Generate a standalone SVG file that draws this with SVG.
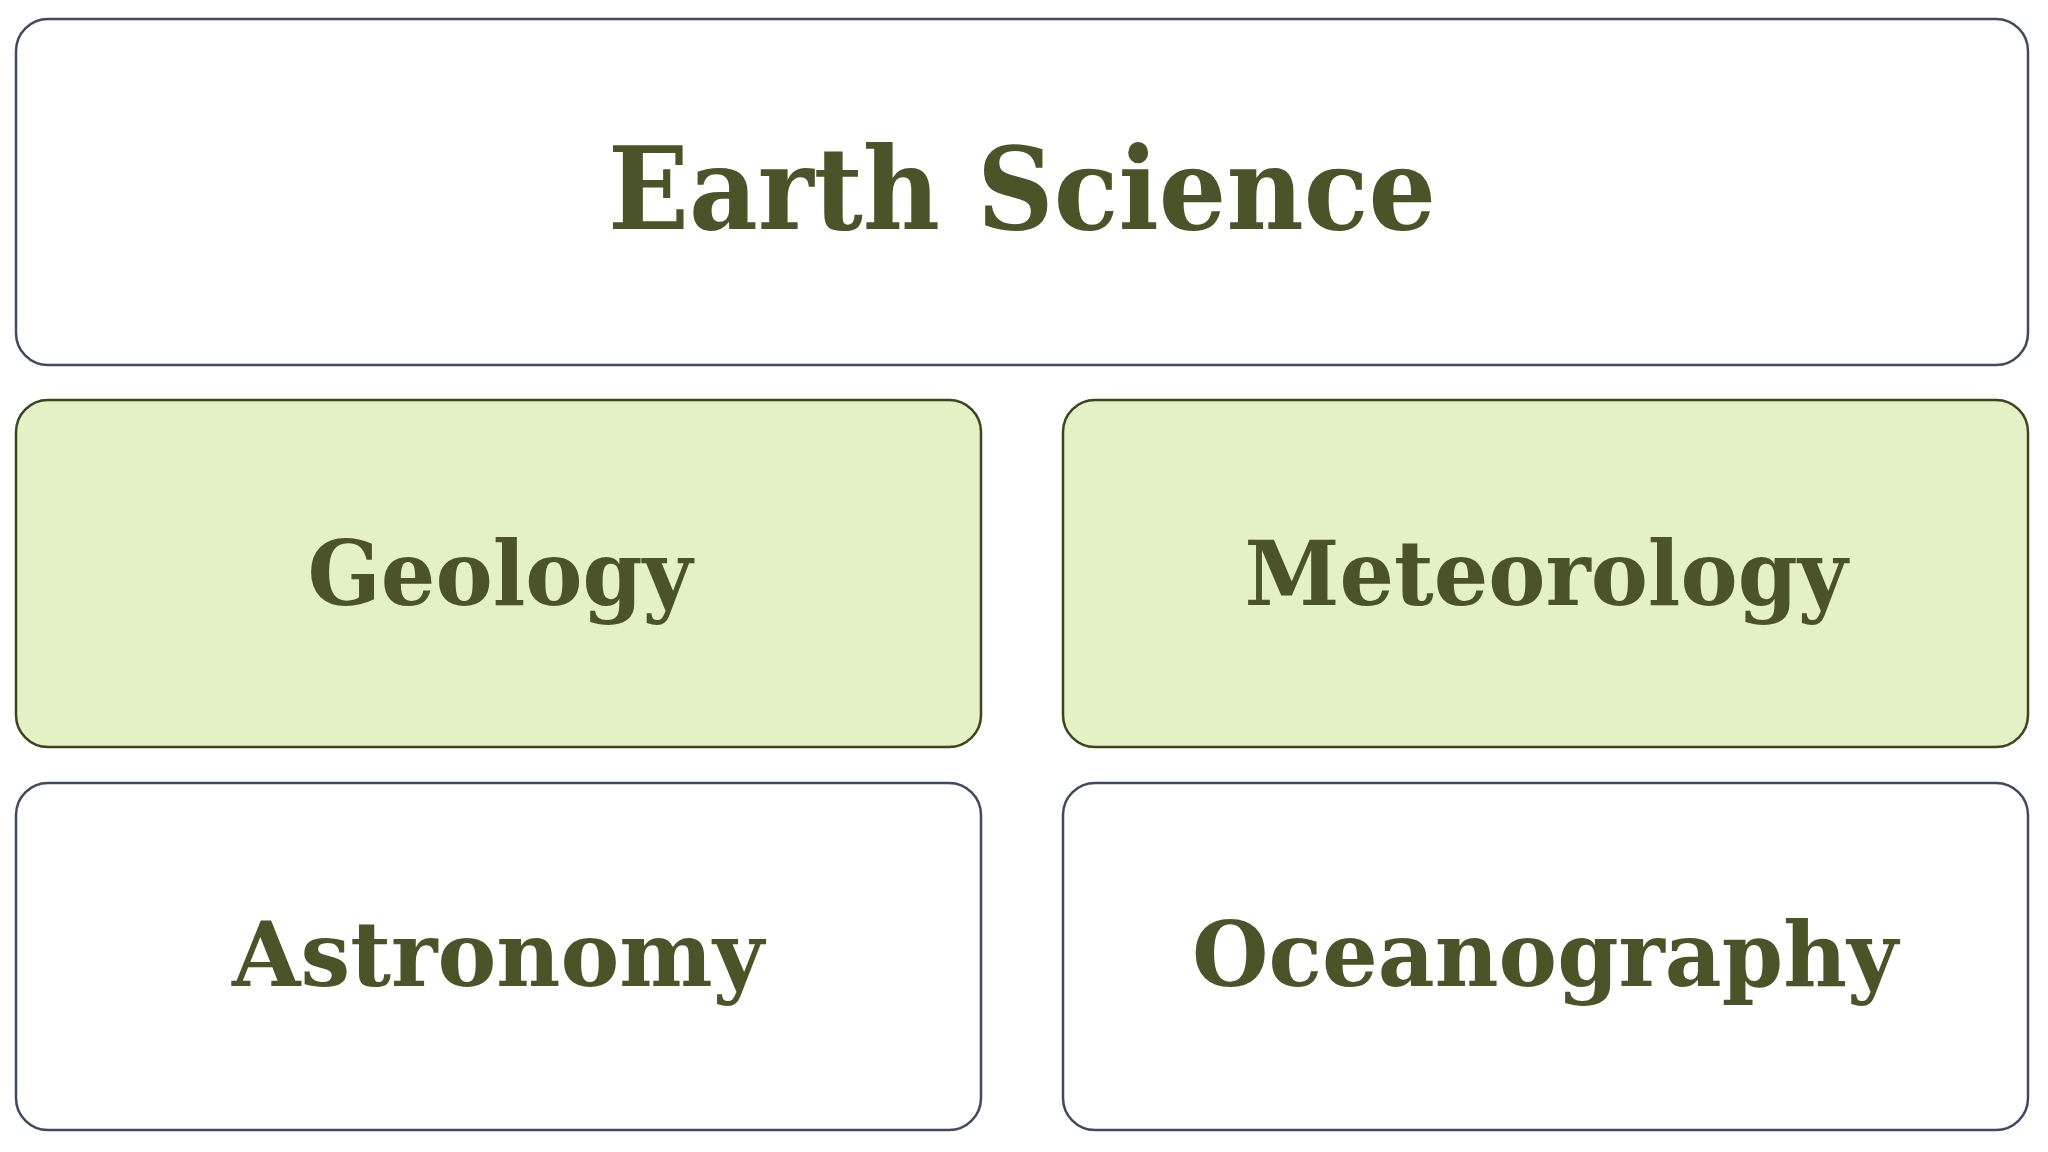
<svg xmlns="http://www.w3.org/2000/svg" width="2048" height="1152" viewBox="0 0 2048 1152">
  <style>
    .plain { fill: #ffffff; stroke: #3e4a62; stroke-width: 2.5; }
    .green { fill: #e4f1c4; stroke: #3b4620; stroke-width: 2.5; }
    .lbl { font-family: "DejaVu Serif", "Liberation Serif", serif; font-weight: bold; fill: #4a5428; text-anchor: middle; }
    .big { font-size: 114px; }
    .mid { font-size: 90px; }
  </style>
  <rect width="2048" height="1152" fill="#ffffff"/>
  <g id="earth-science">
    <rect class="plain" x="16" y="19" width="2012" height="346" rx="32" ry="32"/>
    <text class="lbl big" x="1022" y="229" textLength="828" lengthAdjust="spacingAndGlyphs">Earth Science</text>
  </g>
  <g id="geology">
    <rect class="green" x="16" y="400" width="965" height="347" rx="32" ry="32"/>
    <text class="lbl mid" x="500" y="605" textLength="385" lengthAdjust="spacingAndGlyphs">Geology</text>
  </g>
  <g id="meteorology">
    <rect class="green" x="1063" y="400" width="965" height="347" rx="32" ry="32"/>
    <text class="lbl mid" x="1546" y="605" textLength="603" lengthAdjust="spacingAndGlyphs">Meteorology</text>
  </g>
  <g id="astronomy">
    <rect class="plain" x="16" y="783" width="965" height="347" rx="32" ry="32"/>
    <text class="lbl mid" x="498" y="986" textLength="532" lengthAdjust="spacingAndGlyphs">Astronomy</text>
  </g>
  <g id="oceanography">
    <rect class="plain" x="1063" y="783" width="965" height="347" rx="32" ry="32"/>
    <text class="lbl mid" x="1545" y="986" textLength="706" lengthAdjust="spacingAndGlyphs">Oceanography</text>
  </g>
  <g id="connectors"/>
</svg>
